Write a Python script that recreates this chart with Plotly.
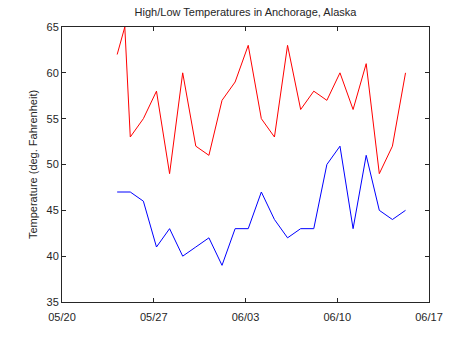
import plotly.graph_objects as go

# Data
high_dates = ["2011-05-24 05:00", "2011-05-24 19:00", "2011-05-25 05:00", "2011-05-26 05:00",
              "2011-05-27 05:00", "2011-05-28 05:00", "2011-05-29 05:00", "2011-05-30 05:00",
              "2011-05-31 05:00", "2011-06-01 05:00", "2011-06-02 05:00", "2011-06-03 05:00",
              "2011-06-04 05:00", "2011-06-05 05:00", "2011-06-06 05:00", "2011-06-07 05:00",
              "2011-06-08 05:00", "2011-06-09 05:00", "2011-06-10 05:00", "2011-06-11 05:00",
              "2011-06-12 05:00", "2011-06-13 05:00", "2011-06-14 05:00", "2011-06-15 05:00"]
high_temps = [62, 65, 53, 55, 58, 49, 60, 52, 51, 57, 59, 63, 55, 53, 63, 56, 58, 57, 60, 56,
              61, 49, 52, 60]

low_dates = ["2011-05-24 05:00", "2011-05-25 05:00", "2011-05-26 05:00", "2011-05-27 05:00",
             "2011-05-28 05:00", "2011-05-29 05:00", "2011-05-30 05:00", "2011-05-31 05:00",
             "2011-06-01 05:00", "2011-06-02 05:00", "2011-06-03 05:00", "2011-06-04 05:00",
             "2011-06-05 05:00", "2011-06-06 05:00", "2011-06-07 05:00", "2011-06-08 05:00",
             "2011-06-09 05:00", "2011-06-10 05:00", "2011-06-11 05:00", "2011-06-12 05:00",
             "2011-06-13 05:00", "2011-06-14 05:00", "2011-06-15 05:00"]
low_temps = [47, 47, 46, 41, 43, 40, 41, 42, 39, 43, 43, 47, 44, 42, 43, 43, 50, 52, 43, 51,
             45, 44, 45]

x_tick_dates = ["2011-05-20", "2011-05-27", "2011-06-03", "2011-06-10", "2011-06-17"]
x_tick_labels = ["05/20", "05/27", "06/03", "06/10", "06/17"]
y_ticks = [35, 40, 45, 50, 55, 60, 65]

title_text = "High/Low Temperatures in Anchorage, Alaska"
y_title = "Temperature (deg. Fahrenheit)"

FONT = "Liberation Sans, Arial, Helvetica, sans-serif"

fig = go.Figure()
fig.add_trace(go.Scatter(x=high_dates, y=high_temps, mode="lines",
                         line=dict(color="#ff0000", width=1), name="High"))
fig.add_trace(go.Scatter(x=low_dates, y=low_temps, mode="lines",
                         line=dict(color="#0000ff", width=1), name="Low"))

axis_common = dict(showline=True, linecolor="#262626", linewidth=1, mirror="ticks",
                   ticks="inside", ticklen=4, tickcolor="#262626", showgrid=False,
                   zeroline=False, automargin=False,
                   tickfont=dict(family=FONT, size=11, color="#262626"))

fig.update_layout(
    width=474, height=355, autosize=False,
    margin=dict(l=62, r=45, t=27, b=53, pad=0),
    paper_bgcolor="white", plot_bgcolor="white",
    showlegend=False,
    font=dict(family=FONT, size=11, color="#262626"),
    title=dict(text=title_text, x=(62 + 429) / 2 / 474, xanchor="center",
               y=1 - 12 / 355, yanchor="middle",
               font=dict(family=FONT, size=11, color="#262626")),
    xaxis=dict(range=[x_tick_dates[0], x_tick_dates[-1]], tickvals=x_tick_dates,
               ticktext=x_tick_labels, ticklabelstandoff=5, **axis_common),
    yaxis=dict(range=[35, 65], tickvals=y_ticks,
               title=dict(text=y_title, standoff=6,
                          font=dict(family=FONT, size=11, color="#262626")),
               **axis_common),
)

fig.write_html("out.html", config={"displayModeBar": False},
               post_script="document.body.style.margin='0';document.body.style.overflow='hidden';")
